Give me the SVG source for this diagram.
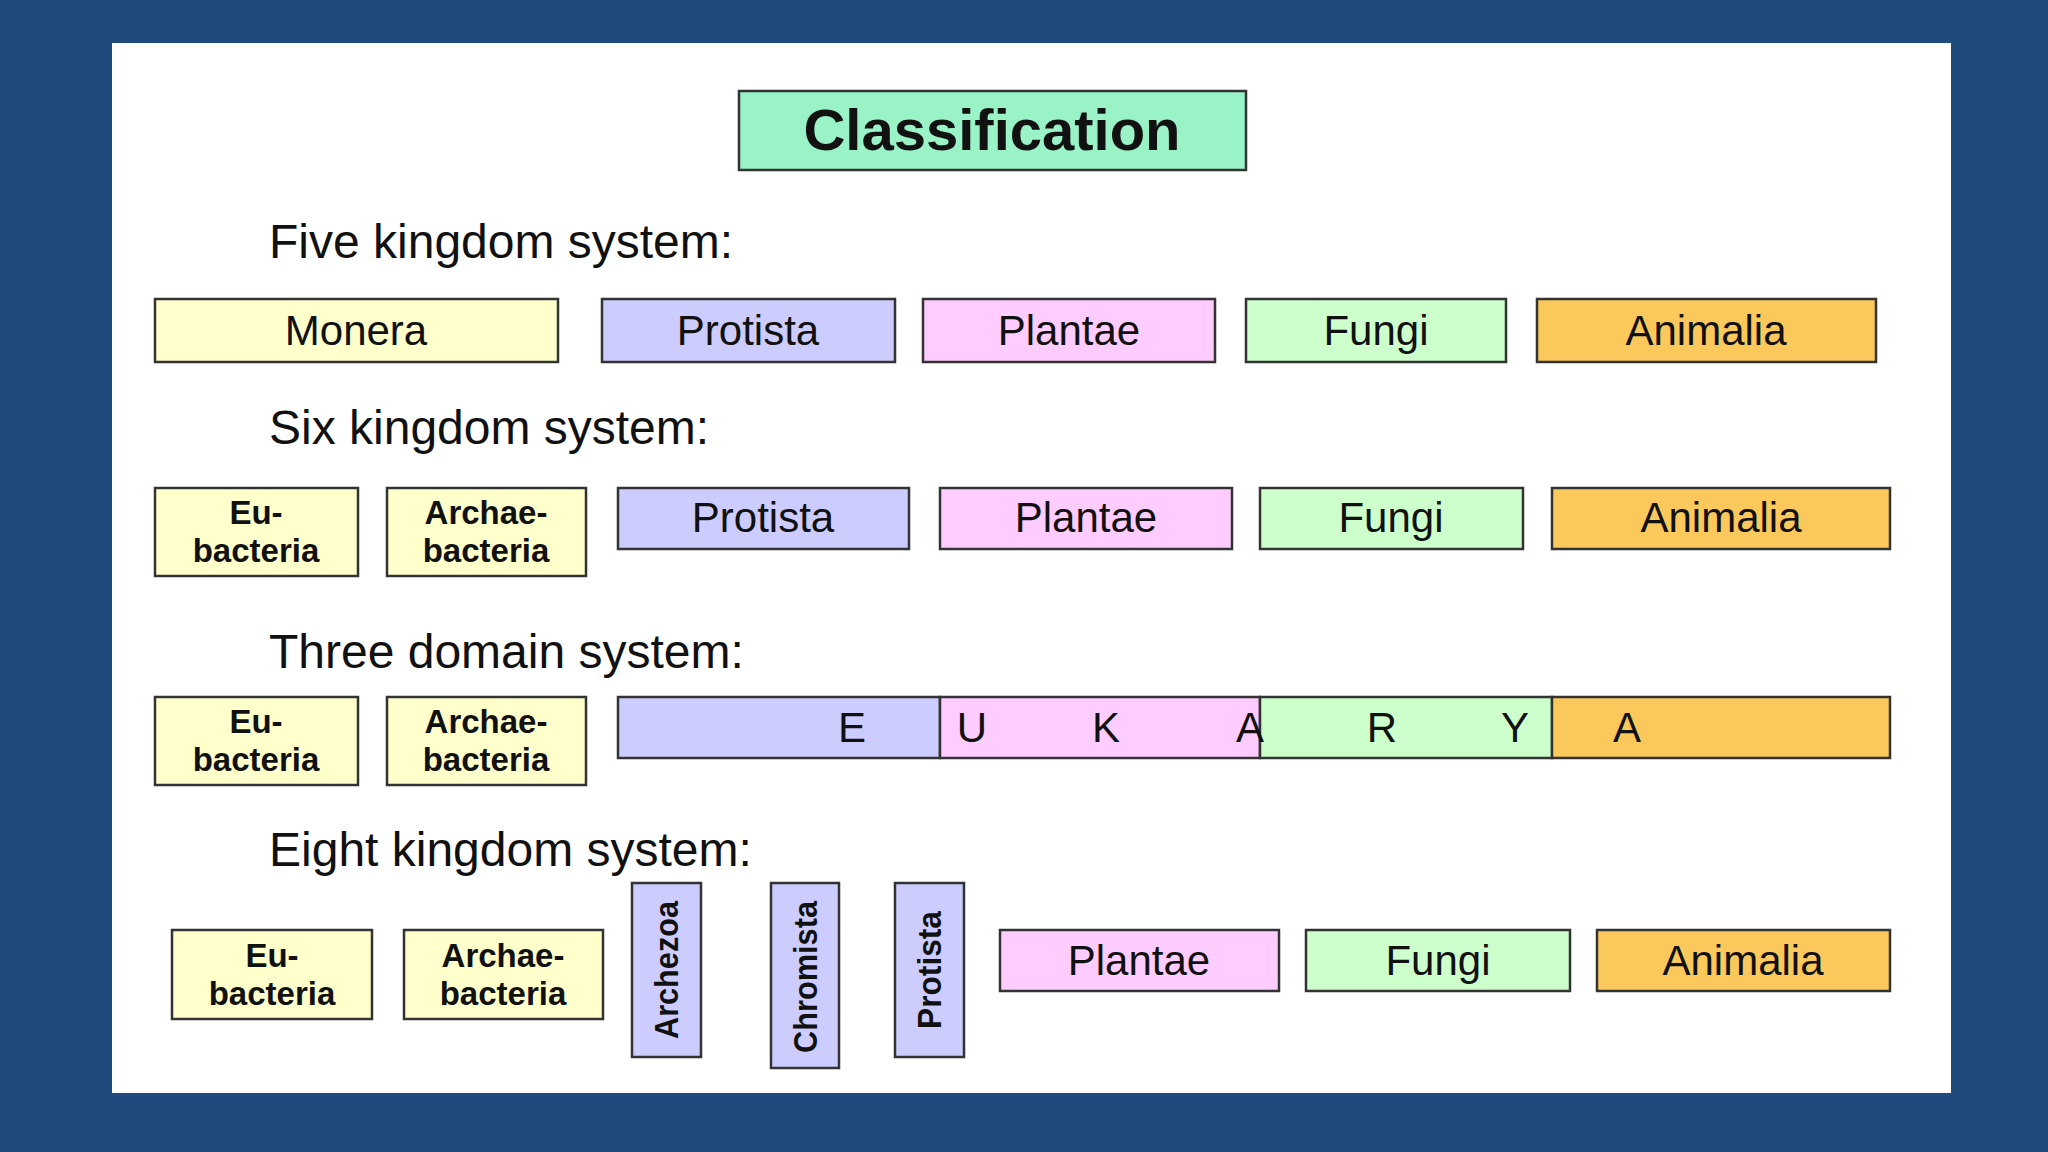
<svg xmlns="http://www.w3.org/2000/svg" width="2048" height="1152" viewBox="0 0 2048 1152">
<style>
.b{stroke:#333;stroke-width:2.5}
.y{fill:#ffffcc}.p{fill:#ccccff}.k{fill:#ffccff}.g{fill:#ccffcc}.o{fill:#fbc85c}
text{font-family:"Liberation Sans",Arial,sans-serif;fill:#111}
.h{font-size:48px}
.t{font-size:42px;text-anchor:middle}
.s{font-size:33px;font-weight:bold;text-anchor:middle}
</style>
<rect width="2048" height="1152" fill="#1f4a7c"/>
<rect x="112" y="43" width="1839" height="1050" fill="#fff"/>
<g id="title"><rect class="b" x="739" y="91" width="507" height="79" fill="#99f3c6"/><text x="992" y="150" font-size="58" font-weight="bold" text-anchor="middle">Classification</text></g>
<text class="h" x="269" y="258">Five kingdom system:</text>
<text class="h" x="269" y="444">Six kingdom system:</text>
<text class="h" x="269" y="668">Three domain system:</text>
<text class="h" x="269" y="866">Eight kingdom system:</text>
<g id="r1-monera"><rect class="b y" x="155" y="299" width="403" height="63"/><text class="t" x="356" y="345">Monera</text></g>
<g id="r1-protista"><rect class="b p" x="602" y="299" width="293" height="63"/><text class="t" x="748" y="345">Protista</text></g>
<g id="r1-plantae"><rect class="b k" x="923" y="299" width="292" height="63"/><text class="t" x="1069" y="345">Plantae</text></g>
<g id="r1-fungi"><rect class="b g" x="1246" y="299" width="260" height="63"/><text class="t" x="1376" y="345">Fungi</text></g>
<g id="r1-animalia"><rect class="b o" x="1537" y="299" width="339" height="63"/><text class="t" x="1706" y="345">Animalia</text></g>
<g id="r2-eu"><rect class="b y" x="155" y="488" width="203" height="88"/><text class="s" x="256" y="524">Eu-</text><text class="s" x="256" y="562">bacteria</text></g>
<g id="r2-archae"><rect class="b y" x="387" y="488" width="199" height="88"/><text class="s" x="486" y="524">Archae-</text><text class="s" x="486" y="562">bacteria</text></g>
<g id="r2-protista"><rect class="b p" x="618" y="488" width="291" height="61"/><text class="t" x="763" y="532">Protista</text></g>
<g id="r2-plantae"><rect class="b k" x="940" y="488" width="292" height="61"/><text class="t" x="1086" y="532">Plantae</text></g>
<g id="r2-fungi"><rect class="b g" x="1260" y="488" width="263" height="61"/><text class="t" x="1391" y="532">Fungi</text></g>
<g id="r2-animalia"><rect class="b o" x="1552" y="488" width="338" height="61"/><text class="t" x="1721" y="532">Animalia</text></g>
<g id="r3-eu"><rect class="b y" x="155" y="697" width="203" height="88"/><text class="s" x="256" y="733">Eu-</text><text class="s" x="256" y="771">bacteria</text></g>
<g id="r3-archae"><rect class="b y" x="387" y="697" width="199" height="88"/><text class="s" x="486" y="733">Archae-</text><text class="s" x="486" y="771">bacteria</text></g>
<g id="r3-eukarya">
<rect class="b p" x="618" y="697" width="322" height="61"/><rect class="b k" x="940" y="697" width="320" height="61"/><rect class="b g" x="1260" y="697" width="292" height="61"/><rect class="b o" x="1552" y="697" width="338" height="61"/>
<text class="t" x="852" y="742">E</text><text class="t" x="972" y="742">U</text><text class="t" x="1106" y="742">K</text><text class="t" x="1250" y="742">A</text><text class="t" x="1382" y="742">R</text><text class="t" x="1515" y="742">Y</text><text class="t" x="1627" y="742">A</text></g>
<g id="r4-eu"><rect class="b y" x="172" y="930" width="200" height="89"/><text class="s" x="272" y="967">Eu-</text><text class="s" x="272" y="1005">bacteria</text></g>
<g id="r4-archae"><rect class="b y" x="404" y="930" width="199" height="89"/><text class="s" x="503" y="967">Archae-</text><text class="s" x="503" y="1005">bacteria</text></g>
<g id="r4-archezoa"><rect class="b p" x="632" y="883" width="69" height="174"/><text class="s" transform="translate(678 970) rotate(-90)" textLength="138" lengthAdjust="spacingAndGlyphs">Archezoa</text></g>
<g id="r4-chromista"><rect class="b p" x="771" y="883" width="68" height="185"/><text class="s" transform="translate(817 977) rotate(-90)" textLength="152" lengthAdjust="spacingAndGlyphs">Chromista</text></g>
<g id="r4-protista"><rect class="b p" x="895" y="883" width="69" height="174"/><text class="s" transform="translate(941 970) rotate(-90)" textLength="118" lengthAdjust="spacingAndGlyphs">Protista</text></g>
<g id="r4-plantae"><rect class="b k" x="1000" y="930" width="279" height="61"/><text class="t" x="1139" y="975">Plantae</text></g>
<g id="r4-fungi"><rect class="b g" x="1306" y="930" width="264" height="61"/><text class="t" x="1438" y="975">Fungi</text></g>
<g id="r4-animalia"><rect class="b o" x="1597" y="930" width="293" height="61"/><text class="t" x="1743" y="975">Animalia</text></g>
<g id="connectors"/>
</svg>
